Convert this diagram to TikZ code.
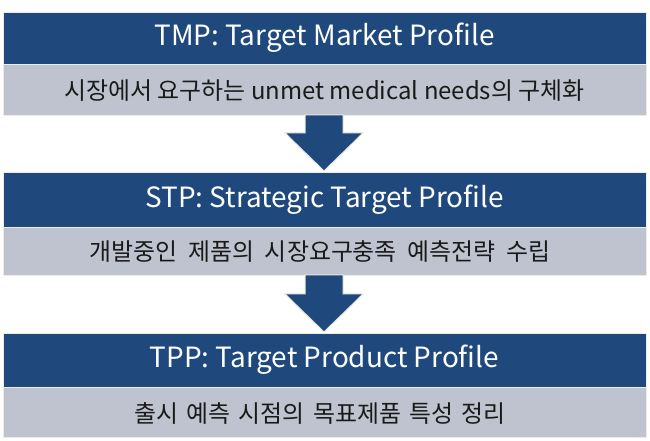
\documentclass[tikz,border=0pt]{standalone}
\usepackage{fontspec}
\setmainfont{Noto Sans CJK KR}
\definecolor{hdr}{HTML}{1F497D}
\definecolor{sub}{HTML}{BEC3CF}
\definecolor{edge}{HTML}{EEEBE0}
\definecolor{subfg}{HTML}{1A1A1A}
\begin{document}
\begin{tikzpicture}[x=1bp,y=-1bp,
  hdrbox/.style={fill=hdr,draw=edge,line width=0.6bp},
  subbox/.style={fill=sub,draw=edge,line width=0.6bp},
  hdrtext/.style={text=white,font=\fontsize{28}{32}\selectfont},
  subtext/.style={text=subfg,font=\fontsize{24}{28}\selectfont},
  downarrow/.style={fill=hdr,draw=edge,line width=1bp,line join=miter}]
\useasboundingbox[fill=white] (0,0) rectangle (650,441);
% block 1
\path[hdrbox] (3,12) rectangle (646,64);
\path[subbox] (3,64) rectangle (646,115);
\node[hdrtext] (t1) at (324.5,38) {TMP: Target Market Profile};
\node[subtext] (s1) at (324.5,91) {시장에서 요구하는 unmet medical needs의 구체화};
% arrow 1
\path[downarrow] (305,115) -- (343,115) -- (343,133) -- (363,133) -- (324,171) -- (285,133) -- (305,133) -- cycle;
% block 2
\path[hdrbox] (3,172) rectangle (646,227);
\path[subbox] (3,227) rectangle (646,275);
\node[hdrtext] (t2) at (324.5,199.5) {STP: Strategic Target Profile};
\node[subtext] (s2) at (320,252) {\spaceskip=0.45em plus 0.1em\relax 개발중인 제품의 시장요구충족 예측전략 수립};
% arrow 2
\path[downarrow] (305,275) -- (343,275) -- (343,294) -- (363,294) -- (324,332) -- (285,294) -- (305,294) -- cycle;
% block 3
\path[hdrbox] (3,333) rectangle (646,387);
\path[subbox] (3,387) rectangle (646,437);
\node[hdrtext] (t3) at (324.5,360) {TPP: Target Product Profile};
\node[subtext] (s3) at (320,413) {\spaceskip=0.35em plus 0.1em\relax 출시 예측 시점의 목표제품 특성 정리};
\end{tikzpicture}
\end{document}
